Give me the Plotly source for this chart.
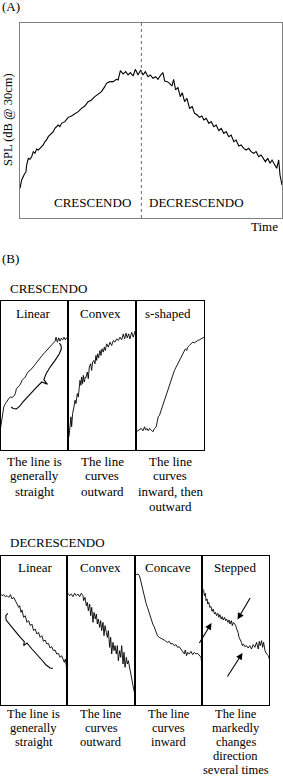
import plotly.graph_objects as go

W, H = 283, 779
FONT = "Liberation Serif"

# ---------------- Panel A data (time, SPL in arbitrary units) ----------------
time_a = [0, 5, 12, 18, 20, 25, 30, 35, 40, 45, 50, 55, 60, 70, 75, 80, 85, 90, 100, 105,
          115, 120, 125, 135, 145, 155, 165, 175, 185, 195, 205, 215, 225, 235, 245, 255,
          260, 270, 280, 290, 295, 302, 310, 318, 325, 332, 340, 347, 355, 363, 370, 377,
          385, 392, 400, 408, 415, 423, 430, 435, 443, 450, 457, 462, 468, 475, 482, 488,
          495, 502, 510, 518, 525, 533, 540, 547, 553, 560, 568, 575, 583, 590, 598, 605,
          613, 620, 628, 635, 643, 650, 658, 665, 673, 680, 688, 695, 703, 710, 718, 725,
          732, 738, 745, 752, 758, 765, 772, 778, 782, 788]
spl_a = [89, 114, 129, 139, 159, 179, 176, 184, 199, 194, 207, 204, 209, 219, 229, 234, 244,
         249, 259, 269, 279, 274, 284, 289, 302, 306, 312, 319, 329, 336, 349, 354, 364, 371,
         379, 394, 404, 409, 409, 416, 414, 442, 432, 439, 429, 436, 426, 446, 429, 444, 429,
         439, 424, 429, 419, 424, 416, 429, 436, 411, 409, 404, 396, 416, 384, 392, 364, 376,
         349, 359, 329, 334, 314, 309, 302, 306, 294, 299, 284, 289, 274, 279, 262, 269, 254,
         259, 244, 249, 229, 234, 216, 219, 209, 204, 209, 199, 194, 199, 184, 189, 179, 169,
         179, 164, 174, 159, 149, 174, 129, 99]
split_time = 365

# ---------------- Panel B: crescendo shapes ----------------
cres_linear_t = [0, 5, 10, 15, 20, 25, 30, 35, 40, 45, 48, 52, 58, 62, 65, 70, 75, 80, 85, 90,
                 95, 100, 105, 110, 115, 120, 125, 130, 135, 140, 145, 150, 155, 160, 165, 168,
                 172, 176, 180, 184, 188, 192, 196, 200, 205]
cres_linear_s = [65, 100, 130, 140, 150, 155, 160, 158, 162, 170, 185, 188, 195, 202, 210, 215,
                 220, 230, 237, 240, 245, 252, 258, 265, 272, 278, 285, 290, 295, 300, 305, 310,
                 315, 320, 328, 340, 325, 338, 328, 337, 332, 340, 332, 338, 340]
cres_brace_t = [178, 183, 184, 178, 165, 150, 138, 131, 142, 125, 110, 95, 80, 68, 58, 48, 38, 32]
cres_brace_s = [322, 315, 305, 290, 270, 250, 230, 212, 198, 205, 190, 175, 160, 145, 132, 124, 125, 130]

cres_convex_t = [2, 5, 8, 10, 13, 17, 20, 23, 27, 30, 33, 35, 38, 40, 43, 45, 48, 51, 53, 57,
                 60, 63, 67, 70, 73, 77, 80, 83, 85, 88, 91, 95, 98, 101, 105, 108, 111, 115,
                 120, 125, 130, 135, 140, 145, 150, 155, 160, 165, 169, 173, 177, 181, 185, 190,
                 195, 200, 203]
cres_convex_s = [40, 80, 100, 70, 110, 130, 150, 140, 170, 160, 190, 210, 195, 220, 200, 225,
                 205, 220, 218, 235, 215, 250, 260, 240, 265, 270, 260, 285, 270, 290, 278, 300,
                 285, 305, 295, 310, 300, 320, 310, 325, 315, 330, 325, 335, 330, 340, 332, 350,
                 335, 352, 338, 350, 335, 355, 340, 358, 350]

cres_sshape_t = [0, 5, 10, 15, 20, 25, 28, 32, 36, 40, 45, 50, 55, 60, 63, 66, 70, 75, 80, 85,
                 90, 95, 100, 105, 110, 115, 120, 125, 130, 135, 140, 145, 148, 152, 155, 160,
                 165, 170, 175, 180, 185, 190, 195, 200, 204]
cres_sshape_s = [55, 58, 60, 65, 58, 70, 60, 65, 58, 65, 60, 55, 65, 70, 85, 100, 105, 120, 140,
                 155, 170, 185, 200, 210, 225, 240, 250, 260, 270, 280, 285, 295, 305, 300, 310,
                 315, 320, 325, 323, 328, 330, 332, 335, 338, 340]

# ---------------- Panel B: decrescendo shapes ----------------
dec_linear_t = [0, 5, 10, 15, 20, 25, 30, 35, 40, 45, 50, 55, 58, 62, 65, 70, 75, 80, 85, 90,
                95, 100, 105, 110, 115, 120, 125, 130, 135, 140, 145, 150, 155, 160, 165, 170,
                175, 180, 185, 190, 193, 196, 199, 202]
dec_linear_s = [333, 328, 331, 325, 328, 323, 331, 318, 323, 313, 303, 293, 298, 278, 285, 263,
                268, 248, 253, 238, 243, 223, 228, 213, 218, 203, 208, 191, 195, 183, 185, 171,
                175, 163, 165, 153, 155, 143, 148, 135, 128, 138, 118, 73]
dec_brace_t = [22, 16, 17, 30, 45, 60, 72, 70, 80, 95, 110, 125, 138, 150, 158]
dec_brace_s = [275, 268, 255, 238, 221, 203, 190, 178, 186, 168, 153, 135, 120, 111, 110]

dec_convex_t = [2, 7, 12, 17, 22, 27, 32, 37, 42, 47, 49, 53, 57, 60, 63, 67, 70, 73, 77, 80,
                84, 87, 90, 93, 97, 100, 103, 107, 110, 113, 117, 120, 123, 127, 130, 133, 137,
                140, 143, 147, 150, 153, 157, 160, 163, 167, 170, 173, 177, 180, 183, 187, 192,
                197, 202]
dec_convex_s = [335, 328, 333, 325, 335, 328, 333, 325, 335, 328, 313, 323, 298, 308, 283, 303,
                268, 293, 248, 278, 258, 273, 243, 258, 233, 253, 223, 248, 208, 238, 218, 203,
                223, 173, 203, 153, 188, 163, 178, 153, 178, 133, 163, 143, 178, 123, 158, 113,
                143, 123, 133, 108, 78, 58, 33]

dec_concave_t = [1, 6, 10, 14, 16, 20, 23, 26, 28, 31, 34, 38, 41, 44, 48, 51, 54, 58, 61, 64,
                 68, 73, 78, 83, 88, 93, 98, 103, 108, 113, 118, 123, 128, 133, 138, 143, 148,
                 151, 155, 158, 163, 168, 173, 178, 183, 188, 193, 198, 200]
dec_concave_s = [395, 391, 393, 388, 381, 363, 353, 338, 328, 318, 305, 293, 283, 273, 258, 248,
                 243, 235, 228, 218, 208, 203, 201, 198, 195, 191, 188, 191, 183, 185, 178, 181,
                 173, 175, 168, 163, 153, 165, 148, 158, 153, 161, 151, 158, 153, 155, 148, 143,
                 125]

dec_stepped_t = [3, 6, 8, 11, 13, 16, 18, 21, 24, 28, 31, 34, 38, 41, 44, 48, 51, 54, 58, 61,
                 64, 68, 71, 74, 78, 81, 84, 88, 91, 94, 98, 101, 104, 108, 111, 114, 118, 121,
                 124, 128, 133, 138, 143, 148, 153, 158, 163, 168, 171, 174, 178, 181, 184, 188,
                 193, 198, 202]
dec_stepped_s = [348, 343, 328, 335, 313, 318, 303, 308, 293, 295, 281, 288, 273, 278, 268, 275,
                 263, 271, 258, 265, 255, 263, 253, 258, 248, 255, 243, 253, 238, 248, 243, 238,
                 228, 218, 203, 198, 188, 178, 183, 175, 178, 171, 178, 168, 181, 173, 188, 168,
                 191, 178, 193, 173, 188, 163, 153, 148, 135]

cres_titles = ["Linear", "Convex", "s-shaped"]
cres_captions = [["The line is", "generally", "straight"],
                 ["The line", "curves", "outward"],
                 ["The line", "curves", "inward, then", "outward"]]
dec_titles = ["Linear", "Convex", "Concave", "Stepped"]
dec_captions = [["The line is", "generally", "straight"],
                ["The line", "curves", "outward"],
                ["The line", "curves", "inward"],
                ["The line", "markedly", "changes", "direction", "several times"]]


def fx(p):
    return p / W


def fy(p):
    return 1 - p / H


fig = go.Figure()
layout = dict(width=W, height=H, margin=dict(l=0, r=0, t=0, b=0),
              paper_bgcolor="white", plot_bgcolor="white", showlegend=False)

# panels: (x0, x1, y_top, y_bottom) in pixels, x-range, y-range, border colour
panels = [
    ((20, 282, 23, 218), (0, 788), (0, 585), "#808080"),
    ((0.5, 68.3, 300.7, 450), (0, 205), (0, 450), "black"),
    ((68.3, 136.3, 300.7, 450), (0, 204), (0, 450), "black"),
    ((136.3, 204, 300.7, 450), (0, 204), (0, 450), "black"),
    ((0.5, 67.3, 556, 705), (0, 202), (0, 447), "black"),
    ((67.3, 134.7, 556, 705), (0, 202), (0, 447), "black"),
    ((134.7, 201.7, 556, 705), (0, 200), (0, 447), "black"),
    ((201.7, 269, 556, 705), (0, 200), (0, 447), "black"),
]
for i, ((x0, x1, yt, yb), xr, yr, lc) in enumerate(panels, start=1):
    sx = "" if i == 1 else str(i)
    common = dict(showgrid=False, zeroline=False, showticklabels=False, ticks="",
                  showline=True, mirror=True, linecolor=lc, linewidth=1, fixedrange=True)
    layout["xaxis" + sx] = dict(domain=[fx(x0), fx(x1)], range=list(xr), anchor="y" + sx, **common)
    layout["yaxis" + sx] = dict(domain=[fy(yb), fy(yt)], range=list(yr), anchor="x" + sx, **common)

curves = [
    (1, time_a, spl_a, 1.1),
    (2, cres_linear_t, cres_linear_s, 0.9),
    (2, cres_brace_t, cres_brace_s, 1.1),
    (3, cres_convex_t, cres_convex_s, 0.9),
    (4, cres_sshape_t, cres_sshape_s, 0.9),
    (5, dec_linear_t, dec_linear_s, 0.9),
    (5, dec_brace_t, dec_brace_s, 1.1),
    (6, dec_convex_t, dec_convex_s, 0.9),
    (7, dec_concave_t, dec_concave_s, 0.9),
    (8, dec_stepped_t, dec_stepped_s, 0.9),
]
for idx, xs, ys, lw in curves:
    sx = "" if idx == 1 else str(idx)
    fig.add_trace(go.Scatter(x=xs, y=ys, mode="lines", xaxis="x" + sx, yaxis="y" + sx,
                             line=dict(color="black", width=lw), hoverinfo="skip"))

shapes = [dict(type="line", xref="x", yref="y domain", x0=split_time, x1=split_time,
               y0=0, y1=1, line=dict(color="#666", width=1, dash="dot"))]

ann = []


def txt(text, x, y, xanchor="center", size=13, angle=0):
    ann.append(dict(text=text, x=fx(x), y=fy(y), xref="paper", yref="paper",
                    xanchor=xanchor, yanchor="middle", showarrow=False, textangle=angle,
                    font=dict(family=FONT, size=size, color="black")))


txt("(A)", 0, 6, "left")
txt("SPL (dB @ 30cm)", 8, 120, angle=-90, size=12.5)
txt("CRESCENDO", 92.7, 202)
txt("DECRESCENDO", 196.7, 202)
txt("Time", 280, 226, "right")
txt("(B)", 0, 258, "left")
txt("CRESCENDO", 8, 288, "left")
txt("DECRESCENDO", 8, 542, "left")

for t, cx in zip(cres_titles, [33.8, 100.5, 168.4]):
    txt(t, cx, 313)
for lines, cx in zip(cres_captions, [34, 102, 170]):
    for k, line in enumerate(lines):
        txt(line, cx, 461 + 15 * k)
for t, cx in zip(dec_titles, [35.5, 100.8, 168.2, 234.5]):
    txt(t, cx, 567)
for lines, cx in zip(dec_captions, [33.5, 101, 168.5, 235.5]):
    for k, line in enumerate(lines):
        txt(line, cx, 714 + 13.9 * k, size=12.5)

# arrows in the "Stepped" panel: (tail, head) in pixels
arrows = [((198.5, 644.5), (211.5, 623.0)),
          ((251.0, 596.5), (237.5, 619.5)),
          ((226.5, 678.0), (242.5, 653.0))]
for (tx, ty), (hx, hy) in arrows:
    ann.append(dict(text="", x=fx(hx), y=fy(hy), ax=tx - hx, ay=ty - hy, xref="paper",
                    yref="paper", axref="pixel", ayref="pixel", showarrow=True,
                    arrowhead=2, arrowsize=1.2, arrowwidth=1.1, arrowcolor="black", standoff=0))

layout["shapes"] = shapes
layout["annotations"] = ann
fig.update_layout(**layout)
fig.write_html("out.html")
